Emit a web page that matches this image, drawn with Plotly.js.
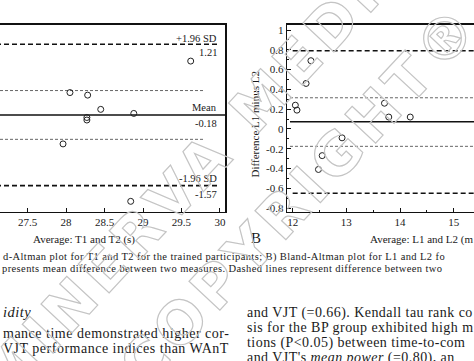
<!DOCTYPE html>
<html>
<head>
<meta charset="utf-8">
<script src="https://cdn.plot.ly/plotly-3.0.1.min.js"></script>
<style>
html,body{margin:0;padding:0;width:474px;height:361px;overflow:hidden;background:#fff;}
#chart{position:absolute;left:-80px;top:0;width:640px;height:361px;}
</style>
</head>
<body>
<div id="chart"></div>
<script>
// ---- data ----
const leftAvg  = [29.62, 28.05, 28.28, 28.45, 28.88, 28.27, 28.27, 27.96, 28.84];
const leftDiff = [0.88, 0.26, 0.21, -0.07, -0.15, -0.23, -0.28, -0.75, -1.88];
const leftMean = -0.18, leftUpper = 1.21, leftLower = -1.57;
const leftCI = [0.30, -0.66];

const rightAvg  = [12.05, 12.08, 12.25, 12.34, 12.48, 12.55, 12.92, 13.71, 13.79, 14.19];
const rightDiff = [0.24, 0.19, 0.46, 0.69, -0.41, -0.27, -0.09, 0.26, 0.12, 0.12];
const rightMean = 0.073, rightUpper = 0.79, rightLower = -0.65;
const rightCI = [0.315, -0.176];

const rightYTicks = [-0.8, -0.6, -0.4, -0.2, 0, 0.2, 0.4, 0.6, 0.8, 1];
const rightYText  = ["-0.8", "-0.6", "-0.4", "-0.2", "0", "0.2", "0.4", "0.6", "0.8", "1"];
const leftXTicks = [27.5, 28, 28.5, 29, 29.5, 30];
const rightXTicks = [12, 13, 14, 15];

const labelsLeft = ["+1.96 SD", "1.21", "Mean", "-0.18", "-1.96 SD", "-1.57"];
const xTitleLeft = "Average: T1 and T2 (s)";
const xTitleRight = "Average: L1 and L2 (m";
const yTitleRight = "Difference L1 minus L2";
const panelB = "B";
const caption1 = "d-Altman plot for T1 and T2 for the trained participants; B) Bland-Altman plot for L1 and L2 fo";
const caption2 = "presents mean difference between two measures. Dashed lines represent difference between two";
const sectionHead = "idity";
const leftBody = ["mance time demonstrated higher cor-", "VJT performance indices than WAnT"];
const rightBody = ["and VJT (=0.66). Kendall tau rank co", "sis for the BP group exhibited high m",
                   "tions (P<0.05) between time-to-com", "and VJT's <i>mean power</i> (=0.80), an"];
const watermark = ["MINERVA MEDICA", "COPYRIGHT®"];

// ---- geometry helpers (image pixel -> paper) ----
const OFF = 80, W = 640, H = 361;
const px = x => (x + OFF) / W;
const py = y => 1 - y / H;
const SERIF = "Liberation Serif, Times New Roman, serif";

const leftRange = [26.36, 30.07];
const rightRange = [11.9, 16.7];

const traces = [
  {x: leftAvg, y: leftDiff, xaxis: 'x', yaxis: 'y', mode: 'markers', type: 'scatter',
   marker: {symbol: 'circle-open', size: 6, color: '#222', line: {width: 1}}, hoverinfo: 'skip'},
  {x: rightAvg, y: rightDiff, xaxis: 'x2', yaxis: 'y2', mode: 'markers', type: 'scatter',
   marker: {symbol: 'circle-open', size: 6, color: '#222', line: {width: 1}}, hoverinfo: 'skip'}
];

function hline(xref, yref, x0, x1, y, dash, width, color) {
  return {type: 'line', xref: xref, yref: yref, x0: x0, x1: x1, y0: y, y1: y,
          line: {color: color, width: width, dash: dash}, layer: 'below'};
}
const DASH = '5px,3px', DOT = '3px,2px';
const shapes = [
  hline('x', 'y', leftRange[0], leftRange[1], leftMean, 'solid', 1.6, '#111'),
  hline('x', 'y', leftRange[0], 30.0, leftUpper, DASH, 1.6, '#111'),
  hline('x', 'y', leftRange[0], 30.0, leftLower, DASH, 1.6, '#111'),
  hline('x', 'y', leftRange[0], 29.78, leftCI[0], DOT, 0.9, '#555'),
  hline('x', 'y', leftRange[0], 29.78, leftCI[1], DOT, 0.9, '#555'),
  hline('x2', 'y2', 11.95, rightRange[1], rightMean, 'solid', 1.6, '#111'),
  hline('x2', 'y2', 12.0, rightRange[1], rightUpper, DASH, 1.6, '#111'),
  hline('x2', 'y2', 12.0, rightRange[1], rightLower, DASH, 1.6, '#111'),
  hline('x2', 'y2', 11.95, rightRange[1], rightCI[0], DOT, 0.9, '#555'),
  hline('x2', 'y2', 11.95, rightRange[1], rightCI[1], DOT, 0.9, '#555')
];

function ann(text, x, y, size, xanchor, opts) {
  return Object.assign({text: text, xref: 'paper', yref: 'paper', x: px(x), y: py(y),
    xanchor: xanchor || 'center', yanchor: 'middle', showarrow: false, borderpad: 0,
    align: xanchor === 'left' ? 'left' : (xanchor === 'right' ? 'right' : 'center'),
    font: {family: SERIF, size: size, color: '#1a1a1a'}}, opts || {});
}
const lblY = [38.3, 52.7, 107.7, 123.3, 178.3, 194];
const annotations = [];
const spacing = {}; // annotation index -> letter spacing (px)
function add(a, ls) { if (ls) spacing[annotations.length] = ls; annotations.push(a); }

labelsLeft.forEach((t, i) => add(ann(t, 218, lblY[i], 10.5, 'right')));
add(ann(xTitleLeft, 84, 239, 11));
add(ann(panelB, 256, 237.5, 15));
add(ann(xTitleRight, 369, 239, 11, 'left'));
add(ann(yTitleRight, 255, 124.5, 11, 'center', {textangle: -90}));
add(ann(caption1, 2, 256.5, 10.5, 'left'), 0.4);
add(ann(caption2, 0.5, 268.5, 10.5, 'left'), 0.4);
add(ann('<i>' + sectionHead + '</i>', 2, 312, 14.5, 'left'), 0.5);
[333, 348].forEach((y, i) => add(ann(leftBody[i], 2, y, 14, 'left'), 0.5));
[312.5, 327.5, 342.5, 357.8].forEach((y, i) => add(ann(rightBody[i], 246, y, 14, 'left'), 0.45));
// watermark
const wmStart = annotations.length;
add(ann(watermark[0], 215, 150, 58, 'center', {textangle: -47,
  font: {family: 'DejaVu Sans', size: 58, color: '#bcbcbc', weight: 'bold'}}));
add(ann(watermark[1], 300, 195, 58, 'center', {textangle: -47,
  font: {family: 'DejaVu Sans', size: 58, color: '#bcbcbc', weight: 'bold'}}));

const axisCommon = {showgrid: false, zeroline: false, showline: true, linecolor: '#111', linewidth: 1.6,
  mirror: true, ticks: 'inside', tickcolor: '#111', tickwidth: 1, ticklen: 4,
  tickfont: {family: SERIF, size: 11, color: '#1a1a1a'}, fixedrange: true};

const layout = {
  width: W, height: H, margin: {l: 0, r: 0, t: 0, b: 0}, showlegend: false,
  paper_bgcolor: '#fff', plot_bgcolor: '#fff',
  xaxis: Object.assign({}, axisCommon, {domain: [px(-60), px(225.3)], range: leftRange,
    tickvals: leftXTicks, anchor: 'y'}),
  yaxis: Object.assign({}, axisCommon, {domain: [py(211.5), py(24.5)], range: [-2.08, 1.60],
    showticklabels: false, ticks: '', anchor: 'x'}),
  xaxis2: Object.assign({}, axisCommon, {domain: [px(287.3), px(545)], range: rightRange,
    tickvals: rightXTicks, anchor: 'y2',
    minor: {ticks: 'inside', ticklen: 2, dtick: 0.5, tickcolor: '#111'}}),
  yaxis2: Object.assign({}, axisCommon, {domain: [py(211.5), py(24.5)], range: [-0.835, 1.056],
    tickvals: rightYTicks, ticktext: rightYText, anchor: 'x2',
    minor: {ticks: 'inside', ticklen: 2, dtick: 0.1, tickcolor: '#111'}}),
  shapes: shapes, annotations: annotations
};

Plotly.newPlot('chart', traces, layout, {staticPlot: true, displayModeBar: false}).then(() => {
  document.querySelectorAll('g.annotation').forEach(g => {
    const i = +g.getAttribute('data-index');
    const t = g.querySelector('text.annotation-text');
    if (!t) return;
    if (spacing[i]) t.style.letterSpacing = spacing[i] + 'px';
    if (i >= wmStart) {
      t.style.fill = 'none';
      t.style.stroke = '#c4c4c4';
      t.style.strokeWidth = '1.2px';
      t.style.letterSpacing = '6px';
    }
  });
});
</script>
</body>
</html>
